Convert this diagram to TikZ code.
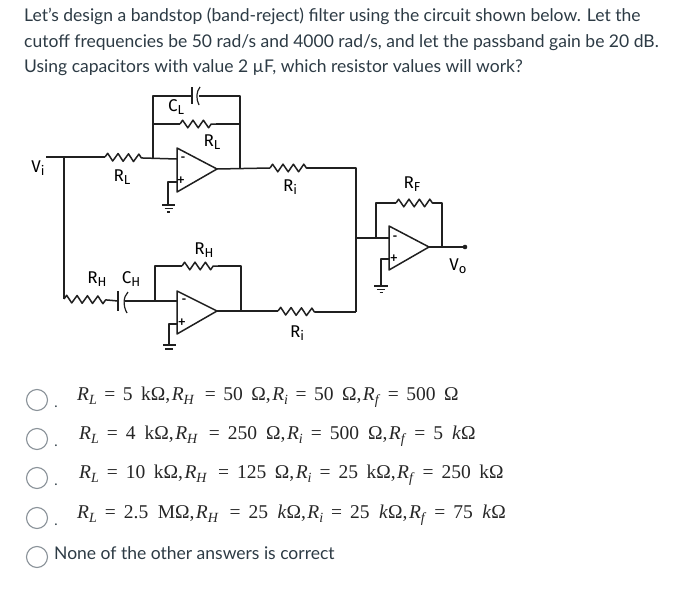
\documentclass[tikz,border=0pt]{standalone}
\usepackage{fontspec}
\setmainfont{Lato}
\newfontfamily\mth{Liberation Serif}
\newfontfamily\hand{Fira Sans}
\usetikzlibrary{decorations.pathmorphing}
\definecolor{ink}{HTML}{2D3B45}
\definecolor{wire}{HTML}{202020}
\definecolor{ring}{HTML}{8A9299}
\newlength\uu
\newlength\ee
\newcommand{\sbs}[1]{\raisebox{-4pt}{\fontsize{14}{14}\selectfont\textit{#1}}}
\newcommand{\RR}[1]{\textit{R}\sbs{#1}}
\newcommand{\RH}{\textit{R}\sbs{H}\hspace{3pt}}
\newcommand{\eqq}{\hspace{\ee}=\hspace{\ee}}
\newcommand{\us}{\hspace{\uu}}
\newcommand{\cma}{,\hspace{1.5pt}}
\newcommand{\hnd}[2]{{\hand\fontsize{17}{17}\selectfont #1\raisebox{-3pt}{\fontsize{13}{13}\selectfont #2}}}
\tikzset{
  x=1pt,y=-1pt,
  wr/.style={draw=wire,line width=1.5pt,line join=round},
  rez/.style={wr,decorate,decoration={zigzag,amplitude=3.8pt,segment length=10.4pt}},
  amp/.style={wr,fill=white},
  body/.style={anchor=base west,inner sep=0pt,text=ink,font=\fontsize{17.5}{17.5}\selectfont},
  eqn/.style={anchor=base west,inner sep=0pt,text=black!85,font=\mth\fontsize{19.5}{19.5}\selectfont},
  lab/.style={inner sep=0pt,text=black},
  sign/.style={inner sep=0pt,font=\bfseries\fontsize{13}{13}\selectfont},
  radio/.style={circle,draw=ring,line width=1.1pt,minimum size=21pt,inner sep=0pt,fill=white},
  dotn/.style={circle,fill=wire,minimum size=4.6pt,inner sep=0pt},
  stopdot/.style={anchor=base,inner sep=0pt,text=ink,font=\fontsize{14}{14}\selectfont}
}
\begin{document}
\begin{tikzpicture}
\useasboundingbox[fill=white] (0,0) rectangle (681,589);
% question
\node[body] (q1) at (24,21) {Let's design a bandstop (band-reject) filter using the circuit shown below. Let the};
\node[body] (q2) at (24,47) {cutoff frequencies be 50 rad/s and 4000 rad/s, and let the passband gain be 20 dB.};
\node[body] (q3) at (24,72) {Using capacitors with value 2 µF, which resistor values will work?};
% coordinates, top stage
\coordinate (vin) at (46,157);
\coordinate (vj) at (64,157);
\coordinate (rl1a) at (105,157);
\coordinate (rl1b) at (143,158);
\coordinate (ninv1) at (177,159);
\coordinate (fbl1) at (153,159);
\coordinate (fbm1) at (153,124);
\coordinate (fbt1) at (153,96);
\coordinate (rl2a) at (180,124);
\coordinate (rl2b) at (216,124);
\coordinate (fbmr1) at (240,124);
\coordinate (fbtr1) at (240,96);
\coordinate (capl1) at (192,96);
\coordinate (capr1) at (199,96);
\coordinate (o1) at (217,169);
\coordinate (oj1) at (240,169);
\coordinate (ri1a) at (270,168);
\coordinate (ri1b) at (307,168);
\coordinate (sumt) at (356,168);
\coordinate (sumj) at (356,238);
\coordinate (sumb) at (356,312);
% lower stage
\coordinate (lowc) at (64,299);
\coordinate (rh1b) at (107,300);
\coordinate (capl2) at (118,301);
\coordinate (capr2) at (125,301);
\coordinate (fbl2) at (155,301);
\coordinate (fbt2) at (155,266);
\coordinate (rh2a) at (182,266);
\coordinate (rh2b) at (218,266);
\coordinate (fbr2) at (241,266);
\coordinate (ninv2) at (177,301);
\coordinate (o2) at (217,311);
\coordinate (oj2) at (241,311);
\coordinate (ri2a) at (278,311);
\coordinate (ri2b) at (315,312);
% output stage
\coordinate (ninv3) at (389,238);
\coordinate (fbl3) at (376,238);
\coordinate (fbt3) at (376,203);
\coordinate (rfa) at (396,203);
\coordinate (rfb) at (433,203);
\coordinate (fbr3) at (442,203);
\coordinate (o3) at (429,247);
\coordinate (oj3) at (442,247);
\node[dotn] (vo) at (465,247) {};
% wires
\draw[wr] (vin) -- (rl1a);
\path[rez] (rl1a) -- (rl1b);
\draw[wr] (rl1b) -- (ninv1);
\draw[wr] (fbl1) -- (fbt1) -- (capl1);
\draw[wr] (capr1) -- (fbtr1) -- (oj1);
\draw[wr] (fbm1) -- (rl2a); \path[rez] (rl2a) -- (rl2b); \draw[wr] (rl2b) -- (fbmr1);
\draw[wr] (192,87) -- (192,104);
\draw[wr,line width=1.2pt] (200,87) .. controls (196,92) and (196,99) .. (199,105);
\draw[wr] (o1) -- (ri1a); \path[rez] (ri1a) -- (ri1b); \draw[wr] (ri1b) -- (sumt) -- (sumb);
\draw[wr] (vj) -- (lowc);
\path[rez] (lowc) -- (rh1b);
\draw[wr] (rh1b) -- (capl2);
\draw[wr] (118,291) -- (118,311);
\draw[wr,line width=1.2pt] (128,292) .. controls (123,297) and (123,306) .. (127,313);
\draw[wr] (capr2) -- (ninv2);
\draw[wr] (fbl2) -- (fbt2) -- (rh2a); \path[rez] (rh2a) -- (rh2b); \draw[wr] (rh2b) -- (fbr2) -- (oj2);
\draw[wr] (o2) -- (ri2a); \path[rez] (ri2a) -- (ri2b); \draw[wr] (ri2b) -- (sumb);
\draw[wr] (sumj) -- (ninv3);
\draw[wr] (fbl3) -- (fbt3) -- (rfa); \path[rez] (rfa) -- (rfb); \draw[wr] (rfb) -- (fbr3) -- (oj3);
\draw[wr] (o3) -- (vo);
% op amps
\draw[amp] (177,148) -- (217,169) -- (177,192) -- cycle;
\draw[amp] (177,291) -- (217,311) -- (177,334) -- cycle;
\draw[amp] (389,226) -- (429,247) -- (389,270) -- cycle;
\node[sign] (m1) at (183,159) {-}; \node[sign] (p1) at (181,181) {+};
\node[sign] (m2) at (184,301) {-}; \node[sign] (p2) at (182,323) {+};
\node[sign] (m3) at (395,238) {-}; \node[sign] (p3) at (394,259) {+};
% grounds
\draw[wr] (177,182) -- (168,182) -- (168,205);
\draw[wr] (162,205) -- (175,205) (164.5,208.5) -- (172.5,208.5) (167,212) -- (170,212);
\draw[wr] (177,324) -- (169,324) -- (169,345);
\draw[wr] (163,345) -- (176,345) (165,349) -- (173,349);
\draw[wr] (389,259) -- (381,259) -- (381,286);
\draw[wr] (374,286) -- (388,286) (377,289.5) -- (385,289.5) (379.5,292.5) -- (382.5,292.5);
% circuit labels
\node[lab] (lvi) at (38,168) {\hnd{V}{i}};
\node[lab] (lrl1) at (122,177) {\hnd{R}{L}};
\node[lab] (lcl) at (176,107) {\hnd{C}{L}};
\node[lab] (lrl2) at (212,142) {\hnd{R}{L}};
\node[lab] (lri1) at (290,187) {\hnd{R}{i}};
\node[lab] (lrf) at (412,184) {\hnd{R}{F}};
\node[lab] (lrh2) at (204,250) {\hnd{R}{H}};
\node[lab] (lrh1) at (97,279) {\hnd{R}{H}};
\node[lab] (lch) at (131,279) {\hnd{C}{H}};
\node[lab] (lri2) at (297,333) {\hnd{R}{i}};
\node[lab] (lvo) at (458,266) {\hnd{V}{o}};
% options
\node[radio] (r1) at (37,400) {};
\node[radio] (r2) at (37,439) {};
\node[radio] (r3) at (37,478) {};
\node[radio] (r4) at (37,518) {};
\node[radio] (r5) at (37,557) {};
\node[stopdot] (d1) at (56,407) {.};
\node[stopdot] (d2) at (56,446) {.};
\node[stopdot] (d3) at (56,485) {.};
\node[stopdot] (d4) at (56,525) {.};
\node[eqn] (e1) at (77,400) {\setlength\ee{7.5pt}\setlength\uu{8.5pt}\RR{L}\eqq 5\us kΩ\cma\RH\eqq 50\us Ω\cma\RR{i}\eqq 50\us Ω\cma\RR{f}\eqq 500\us Ω};
\node[eqn] (e2) at (79,439) {\setlength\ee{8pt}\setlength\uu{9pt}\RR{L}\eqq 4\us kΩ\cma\RH\eqq 250\us Ω\cma\RR{i}\eqq 500\us Ω\cma\RR{f}\eqq 5\us\textit{k}Ω};
\node[eqn] (e3) at (79,478) {\setlength\ee{8pt}\setlength\uu{8.5pt}\RR{L}\eqq 10\us kΩ\cma\RH\eqq 125\us Ω\cma\RR{i}\eqq 25\us kΩ\cma\RR{f}\eqq 250\us kΩ};
\node[eqn] (e4) at (77,518) {\setlength\ee{8pt}\setlength\uu{9.5pt}\RR{L}\eqq 2.5\us MΩ\cma\RH\eqq 25\us\textit{k}Ω\cma\RR{i}\eqq 25\us\textit{k}Ω\cma\RR{f}\eqq 75\us\textit{k}Ω};
\node[body] (none) at (54,559) {None of the other answers is correct};
\end{tikzpicture}
\end{document}
